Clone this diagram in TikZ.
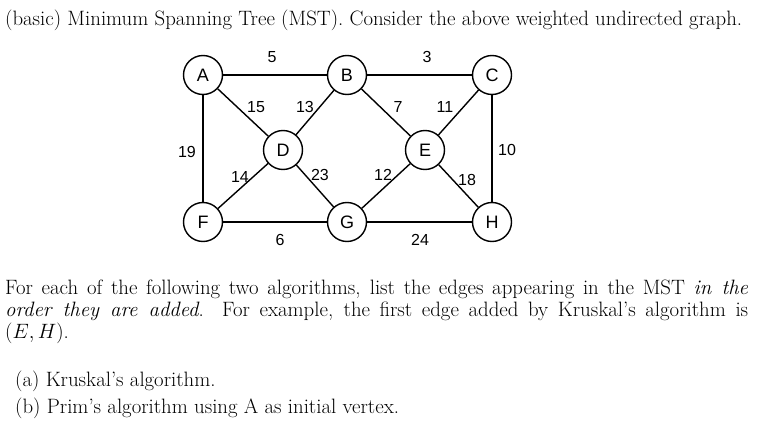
\documentclass[tikz,border=0pt]{standalone}
\usepackage{fontspec}
\newfontfamily\gsans{Liberation Sans}
\begin{document}
\begin{tikzpicture}[x=1pt,y=-1pt,
  vtx/.style={circle,draw,line width=1.4pt,minimum size=39pt,inner sep=0pt,font=\gsans\fontsize{18}{18}\selectfont},
  edg/.style={line width=1.4pt},
  wl/.style={font=\gsans\fontsize{16}{16}\selectfont,inner sep=0pt},
  txt/.style={font=\fontsize{20.8}{22}\selectfont,inner sep=0pt,anchor=base west}]
\useasboundingbox (0,0) rectangle (761,425);
\node[txt] (t1) at (5,26) {(basic) Minimum Spanning Tree (MST). Consider the above weighted undirected graph.};
\node (A) [vtx] at (203,75) {A};
\node (B) [vtx] at (347,75) {B};
\node (C) [vtx] at (492,75) {C};
\node (D) [vtx] at (283,150) {D};
\node (E) [vtx] at (425,150) {E};
\node (F) [vtx] at (203,222) {F};
\node (G) [vtx] at (347,222) {G};
\node (H) [vtx] at (492,222) {H};
\draw[edg] (A)--(B); \draw[edg] (B)--(C);
\draw[edg] (A)--(D); \draw[edg] (D)--(B);
\draw[edg] (B)--(E); \draw[edg] (E)--(C);
\draw[edg] (A)--(F); \draw[edg] (D)--(F);
\draw[edg] (D)--(G); \draw[edg] (E)--(G);
\draw[edg] (E)--(H); \draw[edg] (C)--(H);
\draw[edg] (F)--(G); \draw[edg] (G)--(H);
\node[wl] (l5) at (272,57) {5};
\node[wl] (l3) at (427,57) {3};
\node[wl] (l15) at (256,107) {15};
\node[wl] (l13) at (305,107) {13};
\node[wl] (l7) at (398,107) {7};
\node[wl] (l11) at (445,107) {11};
\node[wl] (l19) at (187,152) {19};
\node[wl] (l10) at (507,150) {10};
\node[wl] (l14) at (240,177) {14};
\node[wl] (l23) at (320,175) {23};
\node[wl] (l12) at (383,175) {12};
\node[wl] (l18) at (467,180) {18};
\node[wl] (l6) at (280,240) {6};
\node[wl] (l24) at (420,240) {24};
\node[txt,anchor=north west,text width=743pt,align=justify] (p) at (5,280)
{For each of the following two algorithms, list the edges appearing in the MST \textit{in the}\linebreak \textit{order they are added}. For example, the first edge added by Kruskal's algorithm is\linebreak $(E,H)$.};
\node[txt] (a) at (15,386) {(a) Kruskal's algorithm.};
\node[txt] (b) at (15,413) {(b) Prim's algorithm using A as initial vertex.};
\end{tikzpicture}
\end{document}
